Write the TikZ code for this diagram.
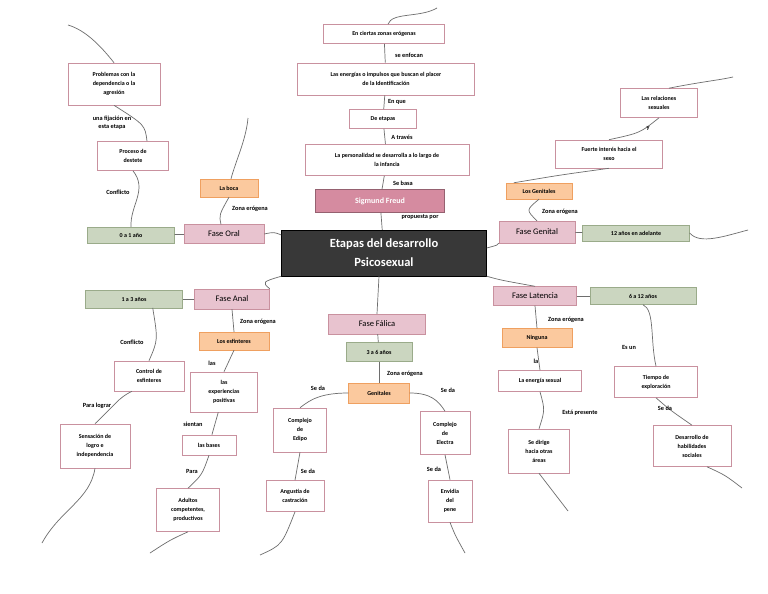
\documentclass[tikz,border=0pt]{standalone}
\usepackage{fontspec}
\setmainfont{Carlito}
\begin{document}
\begin{tikzpicture}[x=1pt,y=-1pt,
 box/.style={draw=pinkb,fill=white,line width=0.6pt,align=center,font=\fontsize{6}{9}\selectfont\bfseries,inner sep=1pt},
 phase/.style={draw=pinkb,fill=pinkf,font=\fontsize{8.5}{10}\selectfont,inner sep=0pt},
 age/.style={draw=greenb,fill=greenf,font=\fontsize{6}{8}\selectfont\bfseries,inner sep=0pt},
 zone/.style={draw=orangeb,fill=orangef,font=\fontsize{6}{8}\selectfont\bfseries,inner sep=0pt},
 lbl/.style={font=\fontsize{6.3}{7.5}\selectfont\bfseries,align=center,inner sep=0pt},
 ln/.style={draw=linec,line width=0.7pt}]
\definecolor{pinkb}{HTML}{C9919F}
\definecolor{pinkf}{HTML}{E8C3CF}
\definecolor{greenb}{HTML}{9AAB8A}
\definecolor{greenf}{HTML}{CBD6C0}
\definecolor{orangeb}{HTML}{EFA060}
\definecolor{orangef}{HTML}{FBC99E}
\definecolor{linec}{HTML}{6E6E6E}
\definecolor{freud}{HTML}{D58BA0}
\useasboundingbox (0,0) rectangle (768,594);
\fill[white] (0,0) rectangle (768,594);
% main
\node[fill=black!78,draw=black,minimum width=205,minimum height=46,text=white,align=center,font=\fontsize{12.5}{19}\selectfont\bfseries] (main) at (384,253) {Etapas del desarrollo\\Psicosexual};
\node[fill=freud,draw=freud!70!black,minimum width=129,minimum height=23,text=white,font=\fontsize{8}{10}\selectfont\bfseries] (freud) at (380,201) {Sigmund Freud};
\node[box,minimum width=164,minimum height=31] (pers) at (387,160) {La personalidad se desarrolla a lo largo de\\la infancia};
\node[box,minimum width=67,minimum height=19] (etapas) at (383,119) {De etapas};
\node[box,minimum width=177,minimum height=32] (energ) at (386,79) {Las energías o impulsos que buscan el placer\\de la Identificación};
\node[box,minimum width=121,minimum height=19] (zonas) at (384,34) {En ciertas zonas erógenas};
\coordinate (ztop) at (437,8);
\draw[ln] (main) -- (freud);
\draw[ln] (freud) -- (pers);
\draw[ln] (pers) -- (etapas);
\draw[ln] (etapas) -- (energ);
\draw[ln] (energ) -- (zonas);
\draw[ln] (zonas.north) ++(4,0) coordinate (zt) (zt) .. controls (392,12) and (420,18) .. (ztop);
\node[lbl] at (409,55) {se enfocan};
\node[lbl] at (397,102) {En que};
\node[lbl] at (402,137) {A través};
\node[lbl] at (403,183) {Se basa};
\node[lbl] at (420,217) {propuesta por};
% Oral
\node[phase,minimum width=80,minimum height=19] (oral) at (224,234) {Fase Oral};
\node[age,minimum width=87,minimum height=16] (a01) at (131,235) {0 a 1 año};
\node[zone,minimum width=58,minimum height=18] (boca) at (229,188) {La boca};
\node[box,minimum width=71,minimum height=29] (destete) at (133,156) {Proceso de\\destete};
\node[box,minimum width=92,minimum height=42] (probl) at (114,84) {Problemas con la\\dependencia o la\\agresión};
\coordinate (bocat) at (248,118);
\coordinate (problt) at (68,25);
\draw[ln] (main.west |- 0,235) .. controls (274,232) .. (oral.east);
\draw[ln] (oral) -- (a01);
\draw[ln] (oral.north) ++(-3,0) .. controls (219,215) .. (boca.south);
\draw[ln] (boca.north) ++(2,0) .. controls (236,160) and (246,140) .. (bocat);
\draw[ln] (a01.north) .. controls (130,205) and (148,190) .. (destete.south);
\draw[ln] (destete.north) ++(14,0) .. controls (145,125) .. (probl.south);
\draw[ln] (probl.north) .. controls (100,45) and (85,30) .. (problt);
\node[lbl] at (250,209) {Zona erógena};
\node[lbl] at (118,192) {Conflicto};
\node[lbl] at (112,123) {una fijación en\\esta etapa};
% Anal
\node[phase,minimum width=75,minimum height=20] (anal) at (232,299) {Fase Anal};
\node[age,minimum width=97,minimum height=18] (a13) at (134,299) {1 a 3 años};
\node[zone,minimum width=70,minimum height=18] (esf) at (234,341) {Los esfinteres};
\node[box,minimum width=70,minimum height=30] (control) at (149,376) {Control de\\esfinteres};
\node[box,minimum width=70,minimum height=44] (sens) at (95,446) {Sensación de\\logro e\\independencia};
\node[box,minimum width=67,minimum height=40] (exper) at (224,392) {las\\experiencias\\positivas};
\node[box,minimum width=54,minimum height=20] (bases) at (209,445) {las bases};
\node[box,minimum width=63,minimum height=43] (adult) at (188,510) {Adultos\\competentes,\\productivos};
\coordinate (senst) at (42,543);
\coordinate (adultt) at (150,553);
\draw[ln] (main.south west) .. controls (262,282) .. (anal.north east);
\draw[ln] (anal) -- (a13);
\draw[ln] (anal.south) -- (esf.north);
\draw[ln] (a13.north east) ++(-30,18) .. controls (158,340) .. (control.north);
\draw[ln] (control.south) ++(-17,0) .. controls (118,398) and (115,405) .. (sens.north);
\draw[ln] (esf.south) -- (exper.north);
\draw[ln] (exper) -- (bases);
\draw[ln] (bases.south) .. controls (202,475) .. (adult.north);
\draw[ln] (sens.south) .. controls (90,500) and (60,510) .. (senst);
\draw[ln] (adult.south) .. controls (170,540) .. (adultt);
\node[lbl] at (258,322) {Zona erógena};
\node[lbl] at (132,342) {Conflicto};
\node[lbl] at (97,406) {Para lograr};
\node[lbl] at (212,363) {las};
\node[lbl] at (193,424) {sientan};
\node[lbl] at (192,471) {Para};
% Falica
\node[phase,minimum width=97,minimum height=20] (fal) at (377,324) {Fase Fálica};
\node[age,minimum width=66,minimum height=19] (a36) at (379,352) {3 a 6 años};
\node[zone,minimum width=61,minimum height=20] (gen) at (379,393) {Genitales};
\node[box,minimum width=53,minimum height=44] (edipo) at (300,430) {Complejo\\de\\Edipo};
\node[box,minimum width=58,minimum height=31] (ang) at (295,496) {Angustia de\\castración};
\node[box,minimum width=50,minimum height=43] (electra) at (445,433) {Complejo\\de\\Electra};
\node[box,minimum width=44,minimum height=42] (envidia) at (450,501) {Envidia\\del\\pene};
\coordinate (angt) at (260,555);
\coordinate (envt) at (465,553);
\draw[ln] (main.south -| 379,0) -- (fal.north);
\draw[ln] (fal) -- (a36);
\draw[ln] (a36) -- (gen);
\draw[ln] (gen.west) .. controls (320,393) and (310,400) .. (edipo.north);
\draw[ln] (edipo.south) -- (ang.north);
\draw[ln] (ang.south) .. controls (282,545) .. (angt);
\draw[ln] (gen.east) .. controls (430,393) and (438,400) .. (electra.north);
\draw[ln] (electra.south) -- (envidia.north);
\draw[ln] (envidia.south) .. controls (455,535) .. (envt);
\node[lbl] at (405,374) {Zona erógena};
\node[lbl] at (318,388) {Se da};
\node[lbl] at (308,471) {Se da};
\node[lbl] at (448,390) {Se da};
\node[lbl] at (434,469) {Se da};
% Latencia
\node[phase,minimum width=83,minimum height=19] (lat) at (535,296) {Fase Latencia};
\node[age,minimum width=106,minimum height=17] (a612) at (643,296) {6 a 12 años};
\node[zone,minimum width=70,minimum height=19] (ning) at (537,338) {Ninguna};
\node[box,minimum width=83,minimum height=21] (energia) at (540,381) {La energía sexual};
\node[box,minimum width=61,minimum height=44] (dirige) at (539,451) {Se dirige\\hacia otras\\áreas};
\node[box,minimum width=83,minimum height=31] (tiempo) at (656,382) {Tiempo de\\exploración};
\node[box,minimum width=78,minimum height=41] (desarr) at (692,446) {Desarrollo de\\habilidades\\sociales};
\coordinate (dirt) at (568,511);
\coordinate (desart) at (742,488);
\draw[ln] (main.south east) .. controls (500,280) .. (lat.north);
\draw[ln] (lat) -- (a612);
\draw[ln] (lat.south) -- (ning.north);
\draw[ln] (ning.south) -- (energia.north);
\draw[ln] (energia.south) .. controls (545,410) .. (dirige.north);
\draw[ln] (dirige.south) .. controls (548,485) .. (dirt);
\draw[ln] (a612.south) .. controls (655,310) and (650,340) .. (tiempo.north);
\draw[ln] (tiempo.south) .. controls (670,410) .. (desarr.north);
\draw[ln] (desarr.south) ++(15,0) .. controls (725,475) .. (desart);
\node[lbl] at (566,320) {Zona erógena};
\node[lbl] at (536,361) {la};
\node[lbl] at (580,413) {Está presente};
\node[lbl] at (629,347) {Es un};
\node[lbl] at (665,408) {Se da};
% Genital
\node[phase,minimum width=76,minimum height=22] (genital) at (537,232) {Fase Genital};
\node[age,minimum width=107,minimum height=16] (a12) at (636,233) {12 años en adelante};
\node[zone,minimum width=66,minimum height=16] (losgen) at (539,191) {Los Genitales};
\node[box,minimum width=107,minimum height=28] (fuerte) at (609,154) {Fuerte interés hacia el\\sexo};
\node[box,minimum width=77,minimum height=29] (relac) at (659,103) {Las relaciones\\sexuales};
\coordinate (a12t) at (748,230);
\coordinate (relt) at (733,77);
\draw[ln] (main.east |- 0,248) .. controls (498,245) .. (genital.south west);
\draw[ln] (genital) -- (a12);
\draw[ln] (a12.east) .. controls (700,245) and (725,236) .. (a12t);
\draw[ln] (genital.north) .. controls (526,210) .. (losgen.south);
\draw[ln] (losgen.north west) ++(8,0) .. controls (560,175) .. (fuerte.south);
\draw[ln] (fuerte.north) .. controls (640,133) .. (relac.south);
\draw[ln] (relac.north) ++(10,0) .. controls (700,82) and (720,80) .. (relt);
\node[lbl] at (560,212) {Zona erógena};
\node[lbl] at (648,128) {y};
\end{tikzpicture}
\end{document}
